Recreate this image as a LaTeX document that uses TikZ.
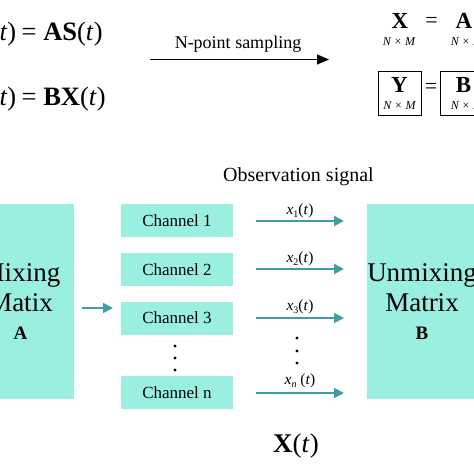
\documentclass[tikz,border=0pt]{standalone}
\usepackage{fontspec}
\setmainfont{Liberation Serif}
\usetikzlibrary{arrows.meta}
\definecolor{boxfill}{HTML}{9BEFE0}
\definecolor{arrowc}{HTML}{3E9EA6}
\tikzset{
  fillbox/.style={fill=boxfill, draw=none, inner sep=0pt},
  chbox/.style={fillbox, minimum width=112pt, minimum height=33pt, font=\fontsize{17}{19}\selectfont},
  bigbox/.style={fillbox, minimum height=195pt, align=center, font=\fontsize{27}{30}\selectfont},
  sig/.style={draw=arrowc, line width=1.8pt, -{Triangle[length=10pt,width=10pt]}},
  lbl/.style={font=\fontsize{15.5}{17}\selectfont, inner sep=0pt},
  eqr/.style={font=\fontsize{26.5}{30}\selectfont, inner sep=0pt, anchor=base west},
  eql/.style={font=\fontsize{26.5}{30}\selectfont, inner sep=0pt, anchor=base east},
  dims/.style={font=\fontsize{12}{13}\selectfont\itshape, inner sep=0pt},
  bigletter/.style={font=\fontsize{23}{25}\selectfont\bfseries, inner sep=0pt},
  eqsign/.style={font=\fontsize{22}{24}\selectfont, inner sep=0pt},
  dot/.style={circle, fill=black, inner sep=0pt, minimum size=3.4pt},
  framebox/.style={draw, line width=1pt, minimum width=43pt, minimum height=44pt, inner sep=0pt}
}
\newcommand{\sigl}[1]{\textit{x}{\fontsize{10}{10}\selectfont\raisebox{-2.5pt}{#1}}(\textit{t})}
\begin{document}
\begin{tikzpicture}[x=1pt,y=-1pt]
\useasboundingbox (0,0) rectangle (474,474);
\clip (0,0) rectangle (474,474);
% left equations
\node[eqr] (eq1r) at (21.5,40) {= \textbf{AS}(\textit{t})};
\node[eql] (eq1l) at (16.5,40) {\textbf{X}(\textit{t})};
\node[eqr] (eq2r) at (21.5,105) {= \textbf{BX}(\textit{t})};
\node[eql] (eq2l) at (16.5,105) {\textbf{Y}(\textit{t})};
% sampling arrow
\coordinate (sa) at (150,59.5);
\coordinate (sb) at (329,59.5);
\draw[line width=1.2pt, -{Triangle[length=12pt,width=10pt]}] (sa) -- (sb);
\node[font=\fontsize{18}{20}\selectfont, inner sep=0pt] (samp) at (238,44) {N-point sampling};
% right top matrix equation
\node[bigletter] (X1) at (400,21) {X};
\node[dims] (X1d) at (399,42) {N × M};
\node[eqsign] (eqa) at (431.5,22) {=};
\node[bigletter] (A1) at (464,21) {A};
\node[dims] (A1d) at (467,42) {N × M};
% boxed equation
\node[framebox] (Ybox) at (399.5,93) {};
\node[bigletter] (Y2) at (399.5,85) {Y};
\node[dims] (Y2d) at (399.5,106) {N × M};
\node[eqsign] (eqb) at (431,88) {=};
\node[framebox, anchor=west] (Bbox) at (440,93) {};
\node[bigletter] (B2) at (463.5,85) {B};
\node[dims] (B2d) at (467,106) {N × M};
% observation signal
\node[font=\fontsize{20}{22}\selectfont, inner sep=0pt] (obs) at (298.5,177) {Observation signal};
% big boxes
\node[bigbox, minimum width=107pt] (mix) at (20.5,301.5) {Mixing\\Matix\\[-2pt]\textbf{\fontsize{19}{21}\selectfont A}};
\node[bigbox, minimum width=110pt] (unmix) at (422,301.5) {Unmixing\\Matrix\\[-2pt]\textbf{\fontsize{19}{21}\selectfont B}};
% channel boxes
\node[chbox] (c1) at (177,220.5) {Channel 1};
\node[chbox] (c2) at (177,269.5) {Channel 2};
\node[chbox] (c3) at (177,318) {Channel 3};
\node[chbox] (cn) at (177,392.5) {Channel n};
% dots
\node[dot] (d1) at (175,346) {};
\node[dot] (d2) at (175,358) {};
\node[dot] (d3) at (175,370) {};
\node[dot] (e1) at (297,338) {};
\node[dot] (e2) at (297,351) {};
\node[dot] (e3) at (297,363) {};
% mixing arrow
\coordinate (ma) at (82,308);
\coordinate (mb) at (113,308);
\draw[sig] (ma) -- (mb);
% signal arrows
\coordinate (a1) at (256,221); \coordinate (b1) at (344,221);
\coordinate (a2) at (256,269); \coordinate (b2) at (344,269);
\coordinate (a3) at (256,318); \coordinate (b3) at (344,318);
\coordinate (an) at (256,393); \coordinate (bn) at (344,393);
\draw[sig] (a1) -- (b1);
\draw[sig] (a2) -- (b2);
\draw[sig] (a3) -- (b3);
\draw[sig] (an) -- (bn);
\node[lbl] (l1) at (300,211) {\sigl{1}};
\node[lbl] (l2) at (300,259) {\sigl{2}};
\node[lbl] (l3) at (300,307) {\sigl{3}};
\node[lbl] (ln) at (300,381) {\textit{x}{\fontsize{10}{10}\selectfont\raisebox{-2.5pt}{\textit{n}}}\ (\textit{t})};
% X(t)
\node[font=\fontsize{27}{30}\selectfont, inner sep=0pt] (Xt) at (296,446) {\textbf{X}(\textit{t})};
\end{tikzpicture}
\end{document}
